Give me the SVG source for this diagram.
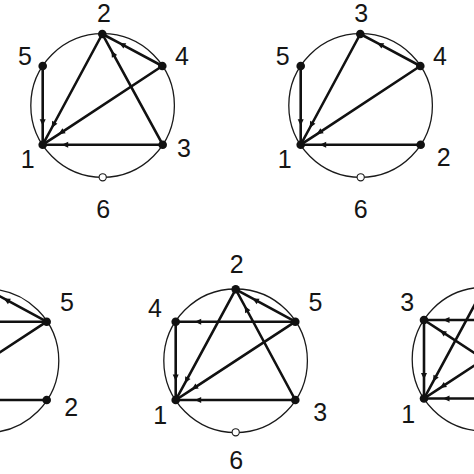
<svg xmlns="http://www.w3.org/2000/svg" width="474" height="474" viewBox="0 0 474 474">
<style>
.ring{fill:none;stroke:#1a1a1a;stroke-width:1.3}
.e{fill:none;stroke:#111;stroke-width:2.6;marker-mid:url(#ah)}
.n{fill:#111}
.o{fill:#fff;stroke:#1a1a1a;stroke-width:1.1}
text{font-family:"Liberation Sans",Arial,sans-serif;font-size:25px;fill:#151515;text-anchor:middle}
</style>
<defs>
<marker id="ah" markerUnits="userSpaceOnUse" markerWidth="10" markerHeight="10" viewBox="-8 -5 10 10" refX="0" refY="0" orient="auto">
<path d="M0,0 L-6.5,-3 L-6.5,3 Z" fill="#111"/>
</marker>
</defs>
<rect width="474" height="474" fill="#fff"/>
<g id="rings">
<circle class="ring" cx="102.6" cy="105.5" r="71.8"/>
<circle class="ring" cx="360.6" cy="105.5" r="71.8"/>
<circle class="ring" cx="-13" cy="360.8" r="71.8"/>
<circle class="ring" cx="235.6" cy="360.8" r="71.8"/>
<circle class="ring" cx="484" cy="359.2" r="71.8"/>
</g>
<g id="connectors">
<!-- panel 1 -->
<path class="e" d="M42.7,66 L42.7,125.7 L42.7,144.7"/>
<path class="e" d="M102.3,34 L51.7,128 L42.7,144.7"/>
<path class="e" d="M162.3,66 L58.6,134.3 L42.7,144.7"/>
<path class="e" d="M162.7,144.7 L61.7,144.7 L42.7,144.7"/>
<path class="e" d="M162.3,66 L119.1,42.9 L102.3,34"/>
<path class="e" d="M162.7,144.7 L111.4,50.7 L102.3,34"/>
<!-- panel 2 -->
<path class="e" d="M300.7,66 L300.7,125.7 L300.7,144.7"/>
<path class="e" d="M360.3,34 L309.7,128 L300.7,144.7"/>
<path class="e" d="M420.3,66 L316.6,134.3 L300.7,144.7"/>
<path class="e" d="M420.7,144.7 L319.7,144.7 L300.7,144.7"/>
<path class="e" d="M420.3,66 L377.1,42.9 L360.3,34"/>
<!-- panel 3 -->
<path class="e" d="M46.7,321.7 L3.7,298.4 L-13,289.3"/>
<path class="e" d="M46.7,321.7 L-54,321.7 L-73,321.7"/>
<path class="e" d="M46.7,321.7 L-57.1,389.6 L-73,400"/>
<path class="e" d="M46.7,400 L-54,400 L-73,400"/>
<!-- panel 4 -->
<path class="e" d="M295.3,321.7 L252.4,298.4 L235.7,289.3"/>
<path class="e" d="M295.3,321.7 L194.7,321.7 L175.7,321.7"/>
<path class="e" d="M175.7,321.7 L175.7,381 L175.7,400"/>
<path class="e" d="M235.7,289.3 L184.8,383.3 L175.7,400"/>
<path class="e" d="M295.3,321.7 L191.6,389.6 L175.7,400"/>
<path class="e" d="M295.3,400 L194.7,400 L175.7,400"/>
<path class="e" d="M295.3,400 L244.7,306 L235.7,289.3"/>
<!-- panel 5 -->
<path class="e" d="M544,320 L443,320 L424,320"/>
<path class="e" d="M544,398.5 L439.9,330.4 L424,320"/>
<path class="e" d="M424,320 L424,379.5 L424,398.5"/>
<path class="e" d="M484,287.4 L433,381.8 L424,398.5"/>
<path class="e" d="M544,320 L439.9,388.1 L424,398.5"/>
<path class="e" d="M544,398.5 L443,398.5 L424,398.5"/>
</g>
<!-- panel 1 nodes -->
<g id="p1-n1"><circle class="n" cx="42.7" cy="144.7" r="4.3"/><text x="27.6" y="168">1</text></g>
<g id="p1-n2"><circle class="n" cx="102.3" cy="34" r="4.3"/><text x="104" y="21.8">2</text></g>
<g id="p1-n3"><circle class="n" cx="162.7" cy="144.7" r="4.3"/><text x="184" y="156.7">3</text></g>
<g id="p1-n4"><circle class="n" cx="162.3" cy="66" r="4.3"/><text x="182" y="65">4</text></g>
<g id="p1-n5"><circle class="n" cx="42.7" cy="66" r="4.3"/><text x="25" y="65">5</text></g>
<g id="p1-n6"><circle class="o" cx="102.7" cy="177.3" r="3.6"/><text x="103.3" y="218.3">6</text></g>
<!-- panel 2 nodes -->
<g id="p2-n1"><circle class="n" cx="300.7" cy="144.7" r="4.3"/><text x="284.6" y="168">1</text></g>
<g id="p2-n2"><circle class="n" cx="420.7" cy="144.7" r="4.3"/><text x="443.7" y="166">2</text></g>
<g id="p2-n3"><circle class="n" cx="360.3" cy="34" r="4.3"/><text x="361.3" y="21.8">3</text></g>
<g id="p2-n4"><circle class="n" cx="420.3" cy="66" r="4.3"/><text x="440" y="65">4</text></g>
<g id="p2-n5"><circle class="n" cx="300.7" cy="66" r="4.3"/><text x="282.8" y="65">5</text></g>
<g id="p2-n6"><circle class="o" cx="360.7" cy="177.3" r="3.6"/><text x="360.8" y="218.3">6</text></g>
<!-- panel 3 nodes -->
<g id="p3-n5"><circle class="n" cx="46.7" cy="321.7" r="4.3"/><text x="67" y="310.7">5</text></g>
<g id="p3-n2"><circle class="n" cx="46.7" cy="400" r="4.3"/><text x="71.3" y="415.7">2</text></g>
<!-- panel 4 nodes -->
<g id="p4-n1"><circle class="n" cx="175.7" cy="400" r="4.3"/><text x="160.2" y="424">1</text></g>
<g id="p4-n2"><circle class="n" cx="235.7" cy="289.3" r="4.3"/><text x="236.7" y="272.7">2</text></g>
<g id="p4-n3"><circle class="n" cx="295.3" cy="400" r="4.3"/><text x="320.3" y="420.7">3</text></g>
<g id="p4-n4"><circle class="n" cx="175.7" cy="321.7" r="4.3"/><text x="155" y="316.7">4</text></g>
<g id="p4-n5"><circle class="n" cx="295.3" cy="321.7" r="4.3"/><text x="315.5" y="310.7">5</text></g>
<g id="p4-n6"><circle class="o" cx="235.7" cy="432.3" r="3.6"/><text x="236.3" y="468.5">6</text></g>
<!-- panel 5 nodes -->
<g id="p5-n3"><circle class="n" cx="424" cy="320" r="4.3"/><text x="407.3" y="310.7">3</text></g>
<g id="p5-n1"><circle class="n" cx="424" cy="398.5" r="4.3"/><text x="408.1" y="423.3">1</text></g>
</svg>
